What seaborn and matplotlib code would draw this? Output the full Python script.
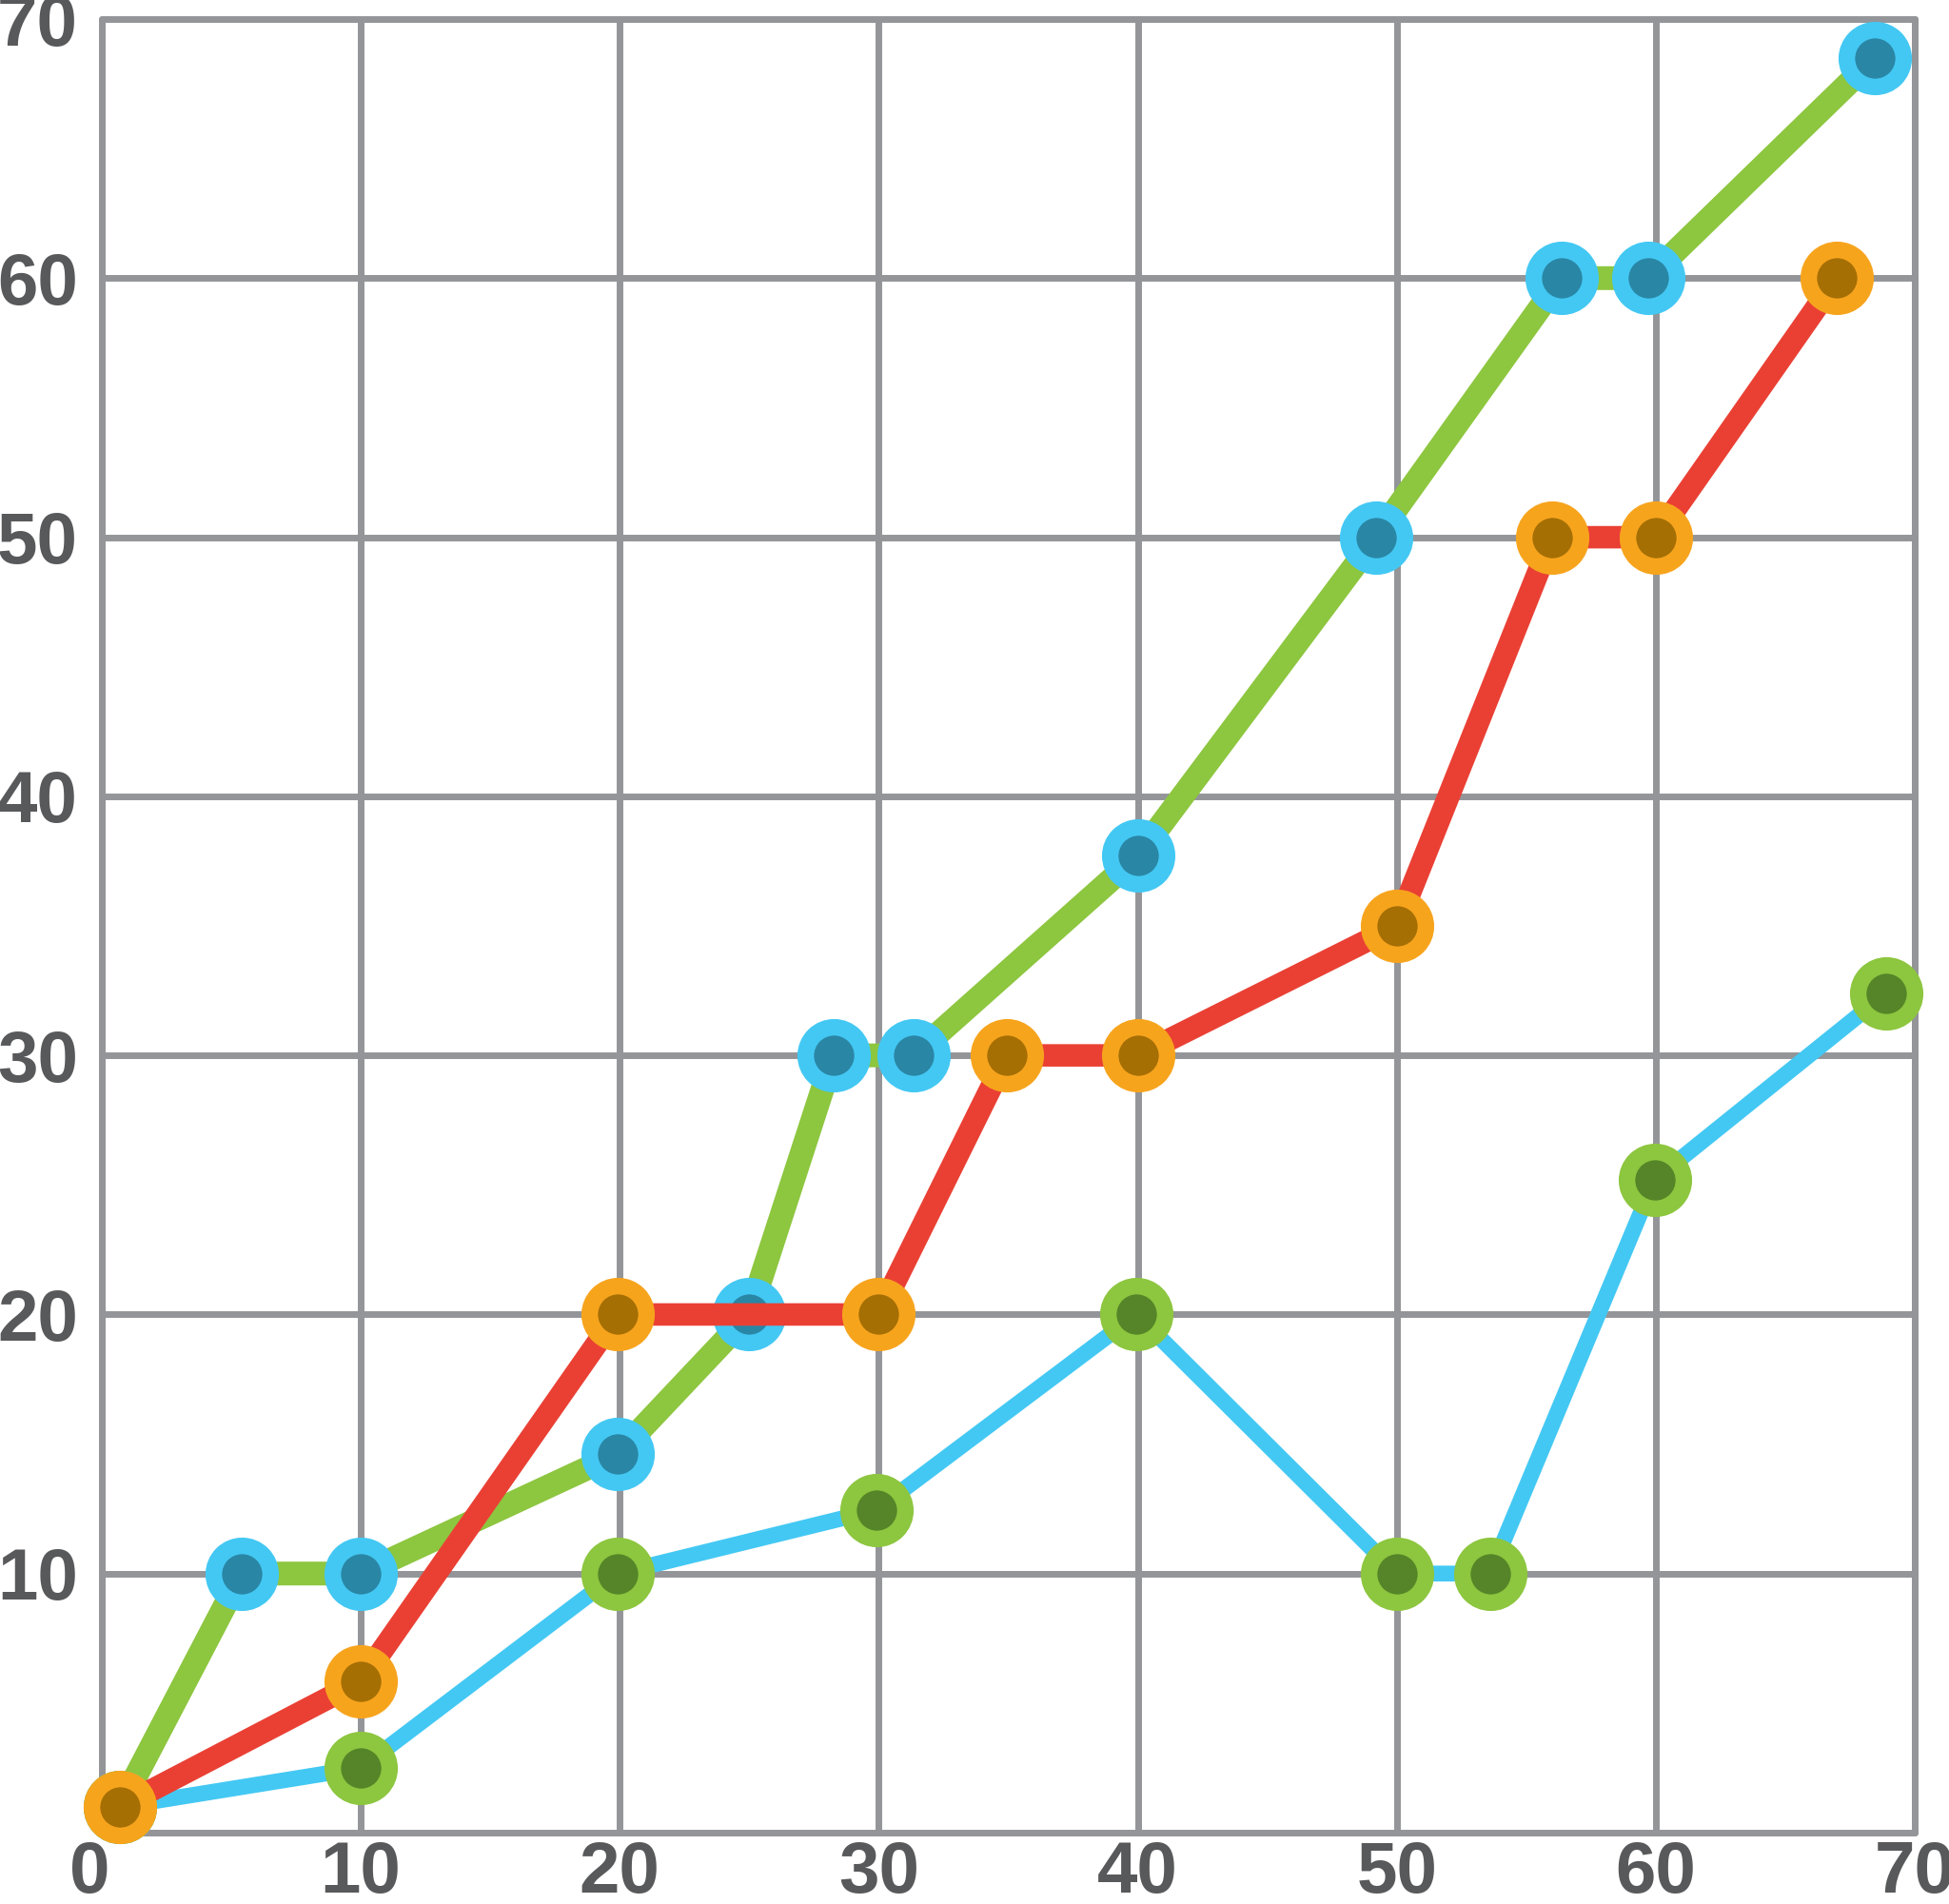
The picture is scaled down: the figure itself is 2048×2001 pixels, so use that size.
import numpy as np
import matplotlib
matplotlib.use('Agg')
import matplotlib.pyplot as plt
import matplotlib.transforms as mtransforms
import seaborn as sns
import pandas as pd

# green line with blue markers
green_x = [0.7, 5.4, 10, 19.9, 25, 28.25, 31.35, 40, 49.2, 56.35, 59.7, 68.45]
green_y = [1.0, 10, 10, 14.6, 20, 30, 30, 37.7, 50, 60, 60, 68.5]
# blue line with green markers
blue_x = [0.7, 10, 19.9, 29.9, 39.95, 50, 53.6, 59.95, 68.9]
blue_y = [1.0, 2.5, 10, 12.45, 20, 10, 10, 25.2, 32.4]
# red line with orange markers
red_x = [0.7, 10, 19.9, 30, 34.95, 40, 50, 56, 60, 67]
red_y = [1.0, 5.85, 20, 20, 30, 30, 35, 50, 50, 60]

x_ticks = [0, 10, 20, 30, 40, 50, 60, 70]
y_ticks = [10, 20, 30, 40, 50, 60, 70]

GRID = '#939598'
TEXT = '#58595B'

sns.set_style('white')
plt.rcParams['font.family'] = ['Liberation Sans', 'DejaVu Sans']

fig = plt.figure(figsize=(20.48, 20.01), dpi=100)
ax = fig.add_axes([0.05225, 0.03748, 0.93018, 0.95252])

series = [
    (green_x, green_y, '#8DC63F', 18, '#43C8F3', '#2A86A5'),
    (blue_x, blue_y, '#43C8F3', 12, '#8DC63F', '#558528'),
    (red_x, red_y, '#EA4034', 17, '#F7A41D', '#A56F04'),
]
for i, (xs, ys, lc, lw, edge, face) in enumerate(series):
    d = pd.DataFrame({'x': xs, 'y': ys})
    sns.lineplot(data=d, x='x', y='y', ax=ax, sort=False, color=lc, linewidth=lw,
                 marker='o', markersize=43, markeredgewidth=12.5,
                 markeredgecolor=edge, markerfacecolor=face,
                 clip_on=False, zorder=3 + i, solid_joinstyle='miter')

ax.set_xlim(0, 70)
ax.set_ylim(0, 70)
ax.set_xticks(x_ticks)
ax.set_yticks(y_ticks)
ax.set_xlabel('')
ax.set_ylabel('')
ax.set_axisbelow(True)
ax.grid(True, color=GRID, linewidth=5)
for s in ax.spines.values():
    s.set_color(GRID)
    s.set_linewidth(5)
    s.set_capstyle('round')

ax.tick_params(axis='both', length=0, labelsize=55, labelcolor=TEXT)
ax.tick_params(axis='x', pad=6)
ax.tick_params(axis='y', pad=18)
for lab in ax.get_xticklabels() + ax.get_yticklabels():
    lab.set_fontweight('bold')

# the "0" label sits a little to the left of its tick
first = ax.get_xticklabels()[0]
first.set_transform(first.get_transform() + mtransforms.ScaledTranslation(-13 / 100, 0, fig.dpi_scale_trans))

fig.savefig('out.png', dpi=100, facecolor='white')
